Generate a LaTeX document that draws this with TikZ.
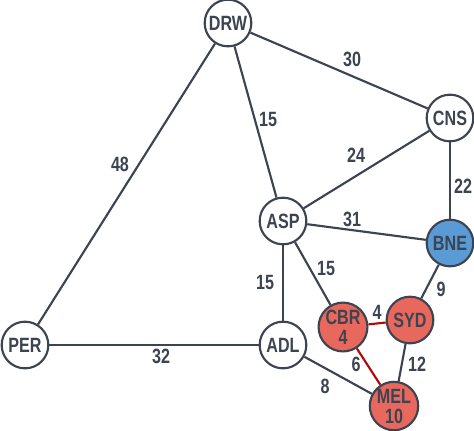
\documentclass[tikz,border=0pt]{standalone}
\usepackage{fontspec}
\newfontfamily\cityfont{Liberation Sans}[FakeStretch=0.78]
\usetikzlibrary{positioning}

\begin{document}
\begin{tikzpicture}[
    x=0.75pt, y=-0.75pt,
    every node/.style={font=\cityfont\bfseries\fontsize{15.5}{15}\selectfont, text=ink},
]

% ---------------------------------------------------------------- colours
\definecolor{ink}{HTML}{3D4451}      % outlines, roads, all text
\definecolor{hotfill}{HTML}{E8685D}  % the cities on the short route
\definecolor{homefill}{HTML}{5A9BD5} % where we start
\definecolor{hotred}{HTML}{B3090C}   % roads taken

% ---------------------------------------------------------------- styles
\tikzset{
    city/.style={circle, draw=ink, line width=1.6pt, fill=white,
                 minimum size=35pt, inner sep=0pt, align=center},
    hotcity/.style={city, fill=hotfill},
    homecity/.style={city, fill=homefill},
    road/.style={ink, line width=1.6pt},
    hotroad/.style={hotred, line width=1.6pt},
    weight/.style={inner sep=1pt},
}

\useasboundingbox (0,0) rectangle (474,430);

% ---------------------------------------------------------------- cities
\node[city]     (drw) at (228, 23)  {DRW};
\node[city]     (cns) at (450, 118) {CNS};
\node[city]     (asp) at (283, 221) {ASP};
\node[homecity] (bne) at (450, 243) {BNE};
\node[city]     (per) at (25, 345)  {PER};
\node[city]     (adl) at (283, 345) {ADL};
\node[hotcity]  (cbr) at (343, 327) {CBR\\4};
\node[hotcity]  (syd) at (410, 320) {SYD};
\node[hotcity]  (mel) at (394, 406) {MEL\\10};

% ---------------------------------------------------------------- roads
\draw[road] (drw) -- (cns);
\draw[road] (drw) -- (per);
\draw[road] (drw) -- (asp);
\draw[road] (asp) -- (cns);
\draw[road] (cns) -- (bne);
\draw[road] (asp) -- (bne);
\draw[road] (asp) -- (adl);
\draw[road] (asp) -- (cbr);
\draw[road] (bne) -- (syd);
\draw[road] (per) -- (adl);
\draw[road] (adl) -- (mel);
\draw[road] (syd) -- (mel);
\draw[hotroad] (cbr) -- (syd);
\draw[hotroad] (cbr) -- (mel);

% ---------------------------------------------------------------- weights
\node[weight] (w-drw-cns) at (352, 59)  {30};
\node[weight] (w-drw-per) at (120, 164) {48};
\node[weight] (w-drw-asp) at (268, 119) {15};
\node[weight] (w-asp-cns) at (356, 155) {24};
\node[weight] (w-cns-bne) at (463, 186) {22};
\node[weight] (w-asp-bne) at (352, 219) {31};
\node[weight] (w-asp-adl) at (265, 282) {15};
\node[weight] (w-asp-cbr) at (326, 268) {15};
\node[weight] (w-bne-syd) at (441, 289) {9};
\node[weight] (w-cbr-syd) at (377, 312) {4};
\node[weight] (w-cbr-mel) at (356, 364) {6};
\node[weight] (w-syd-mel) at (417, 364) {12};
\node[weight] (w-per-adl) at (161, 356) {32};
\node[weight] (w-adl-mel) at (325, 386) {8};

\end{tikzpicture}
\end{document}
